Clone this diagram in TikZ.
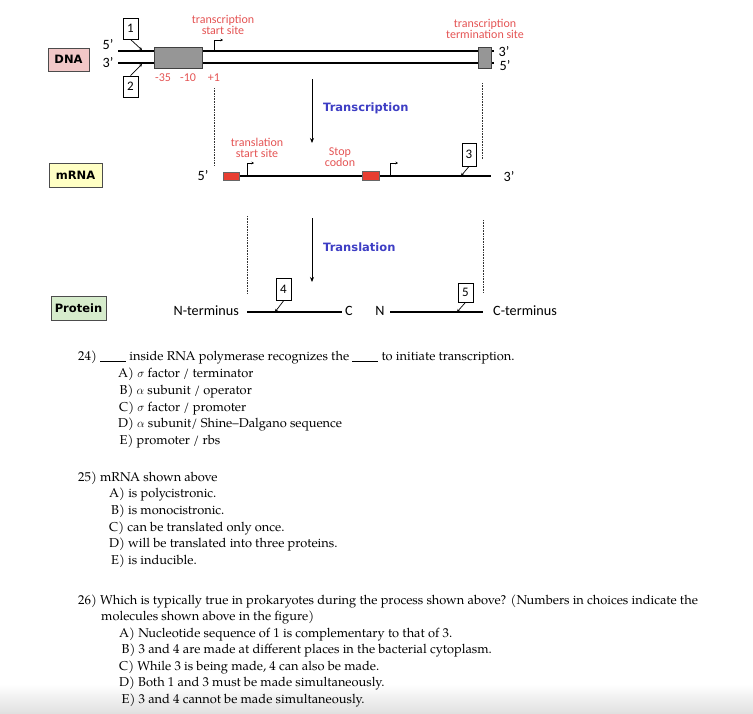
\documentclass[tikz,border=0pt]{standalone}
\usepackage{fontspec}
\newfontfamily\labf{Carlito}
\newfontfamily\boldf{DejaVu Sans}
\newfontfamily\qf[Ligatures=TeX]{TeX Gyre Pagella}
\usetikzlibrary{arrows.meta}
\definecolor{lred}{RGB}{228,84,84}
\definecolor{tblue}{RGB}{62,62,196}
\definecolor{dnapink}{RGB}{242,200,200}
\definecolor{rnayel}{RGB}{255,255,196}
\definecolor{protgreen}{RGB}{214,236,204}
\definecolor{boxgray}{RGB}{150,150,150}
\definecolor{codonred}{RGB}{232,62,50}
\tikzset{
  catbox/.style={draw=black!70, line width=0.7pt, inner sep=0pt, font=\boldf\bfseries\fontsize{11.5}{12}\selectfont},
  numbox/.style={draw=black, fill=white, line width=0.8pt, inner sep=0pt, minimum width=15pt, minimum height=21pt, font=\labf\fontsize{13}{13}\selectfont},
  graybox/.style={draw=black!75, fill=boxgray, line width=0.7pt, inner sep=0pt},
  codon/.style={draw=black!60, fill=codonred, line width=0.5pt, inner sep=0pt},
  strand/.style={line width=1.8pt},
  pline/.style={line width=1.5pt},
  pointer/.style={line width=0.7pt, -{Stealth[length=3pt,width=3pt]}},
  bent/.style={line width=0.6pt, -{Stealth[length=2.5pt,width=2.5pt]}},
  dotline/.style={line width=0.9pt, dash pattern=on 0.8pt off 0.8pt, black!80},
  flow/.style={line width=1pt, -{Stealth[length=5pt,width=4pt]}},
  redlab/.style={text=lred, font=\labf\fontsize{12}{11}\selectfont, align=center, inner sep=0pt},
  lab/.style={font=\labf\fontsize{14.2}{14}\selectfont, inner sep=0pt},
  steplab/.style={text=tblue, font=\boldf\bfseries\fontsize{11.5}{12}\selectfont, inner sep=0pt, anchor=west},
  qline/.style={anchor=base west, inner sep=0pt, font=\qf\fontsize{12.85}{15}\selectfont}
}
\begin{document}
\begin{tikzpicture}[x=1pt,y=-1pt]
\useasboundingbox (0,0) rectangle (753,713);
\shade[top color=white, bottom color=black!12] (0,684) rectangle (753,713);

% ---------- DNA ----------
\node[catbox, fill=dnapink, minimum width=41pt, minimum height=23pt] (dnabox) at (68.5,59.5) {DNA};
\node[lab] (d5l) at (108,45) {5’};
\node[lab] (d3l) at (108,63) {3’};
\coordinate (topL) at (118,51);
\coordinate (topR) at (494,51);
\coordinate (botL) at (118,63);
\coordinate (botR) at (494,63);
\draw[strand] (topL) -- (topR);
\draw[strand] (botL) -- (botR);
\node[graybox, minimum width=48pt, minimum height=21pt] (prom) at (178,57.5) {};
\node[graybox, minimum width=13pt, minimum height=21pt] (term) at (484.5,57.5) {};
\node[lab] (d3r) at (504,52) {3’};
\node[lab] (d5r) at (505,66) {5’};

\node[numbox] (n1) at (130.5,28.5) {1};
\node[numbox] (n2) at (130.5,86.5) {2};
\coordinate (s1) at (142,50);
\coordinate (s2) at (142,64);
\draw[pointer] (n1.south) -- (s1);
\draw[pointer] (n2.north) -- (s2);

\node[redlab] (tss) at (223,25) {transcription\\start site};
\coordinate (tsb) at (214,50);
\coordinate (tst) at (223,40);
\draw[bent] (tsb) |- (tst);
\node[redlab] (m35) at (163,78) {-35};
\node[redlab] (m10) at (188,78) {-10};
\node[redlab] (p1) at (214,78) {+1};
\node[redlab] (tts) at (485,28.5) {transcription\\termination site};

\coordinate (dA1) at (214,88);
\coordinate (dA2) at (214,165);
\draw[dotline] (dA1) -- (dA2);
\coordinate (dB1) at (482,83);
\coordinate (dB2) at (482,159);
\draw[dotline] (dB1) -- (dB2);

\coordinate (tr1) at (312,79);
\coordinate (tr2) at (312,143);
\draw[flow] (tr1) -- (tr2);
\node[steplab] (trlab) at (323,108) {Transcription};

% ---------- mRNA ----------
\node[catbox, fill=rnayel, minimum width=53pt, minimum height=24pt] (rnabox) at (75.5,175) {mRNA};
\node[lab] (r5) at (203,176) {5’};
\node[lab] (r3) at (509,177) {3’};
\coordinate (rL) at (223,176);
\coordinate (rR) at (491,176);
\draw[strand] (rL) -- (rR);
\node[codon, minimum width=16pt, minimum height=8pt] (start) at (231,176) {};
\node[codon, minimum width=17pt, minimum height=9pt] (stop) at (370.5,175.5) {};
\coordinate (b1a) at (247,176);
\coordinate (b1b) at (254,163);
\draw[bent] (b1a) |- (b1b);
\coordinate (b2a) at (390,176);
\coordinate (b2b) at (398,163);
\draw[bent] (b2a) |- (b2b);
\node[redlab] (tls) at (257,148) {translation\\start site};
\node[redlab] (stc) at (340,157) {Stop\\codon};
\node[numbox, minimum height=23pt, minimum width=14pt] (n3) at (469,154.5) {3};
\coordinate (s3) at (461,176);
\draw[pointer] (n3.south) -- (s3);

\coordinate (tl1) at (312,218);
\coordinate (tl2) at (312,282);
\draw[flow] (tl1) -- (tl2);
\node[steplab] (tllab) at (323,247) {Translation};
\coordinate (dC1) at (247,216);
\coordinate (dC2) at (247,293);
\draw[dotline] (dC1) -- (dC2);
\coordinate (dD1) at (483,220);
\coordinate (dD2) at (483,293);
\draw[dotline] (dD1) -- (dD2);

% ---------- Protein ----------
\node[catbox, fill=protgreen, minimum width=55pt, minimum height=24pt] (protbox) at (78.5,308) {Protein};
\node[lab, anchor=east] (nterm) at (239,311) {N-terminus};
\coordinate (p1L) at (247,312);
\coordinate (p1R) at (342,312);
\draw[pline] (p1L) -- (p1R);
\node[lab] (cend) at (349,311) {C};
\node[lab] (nend) at (380,311) {N};
\coordinate (p2L) at (390,312);
\coordinate (p2R) at (483,312);
\draw[pline] (p2L) -- (p2R);
\node[lab, anchor=west] (cterm) at (493,311) {C-terminus};
\node[numbox, minimum height=22pt] (n4) at (283.5,289.5) {4};
\coordinate (s4) at (275,312);
\draw[pointer] (n4.south) -- (s4);
\node[numbox, minimum height=19pt] (n5) at (465.5,292.5) {5};
\coordinate (s5) at (457,312);
\draw[pointer] (n5.south) -- (s5);

% ---------- Questions ----------
\newcommand{\blank}{\rule[-1.5pt]{26pt}{0.6pt}}
\node[qline] (q24) at (78,360) {24)\ \blank\ inside RNA polymerase recognizes the \blank\ to initiate transcription.};
\node[qline] (q24a) at (118,377) {A) $\sigma$ factor / terminator};
\node[qline] (q24b) at (119.5,394) {B) $\alpha$ subunit / operator};
\node[qline] (q24c) at (119,411) {C) $\sigma$ factor / promoter};
\node[qline] (q24d) at (118,427.5) {D) $\alpha$ subunit/ Shine–Dalgano sequence};
\node[qline] (q24e) at (119.5,444) {E) promoter / rbs};

\node[qline] (q25) at (78,481) {25) mRNA shown above};
\node[qline] (q25a) at (109,497.5) {A) is polycistronic.};
\node[qline] (q25b) at (111,514) {B) is monocistronic.};
\node[qline] (q25c) at (109,531) {C) can be translated only once.};
\node[qline] (q25d) at (109,547.5) {D) will be translated into three proteins.};
\node[qline] (q25e) at (111,564) {E) is inducible.};

\node[qline] (q26) at (78,604.5) {26) Which is typically true in prokaryotes during the process shown above? (Numbers in choices indicate the};
\node[qline] (q26b) at (101,620.5) {molecules shown above in the figure)};
\node[qline] (q26x) at (119,637) {A) Nucleotide sequence of 1 is complementary to that of 3.};
\node[qline] (q26y) at (121.5,653.5) {B) 3 and 4 are made at different places in the bacterial cytoplasm.};
\node[qline] (q26z) at (119,670) {C) While 3 is being made, 4 can also be made.};
\node[qline] (q26w) at (119,686.5) {D) Both 1 and 3 must be made simultaneously.};
\node[qline] (q26v) at (121.5,703) {E) 3 and 4 cannot be made simultaneously.};
\end{tikzpicture}
\end{document}
